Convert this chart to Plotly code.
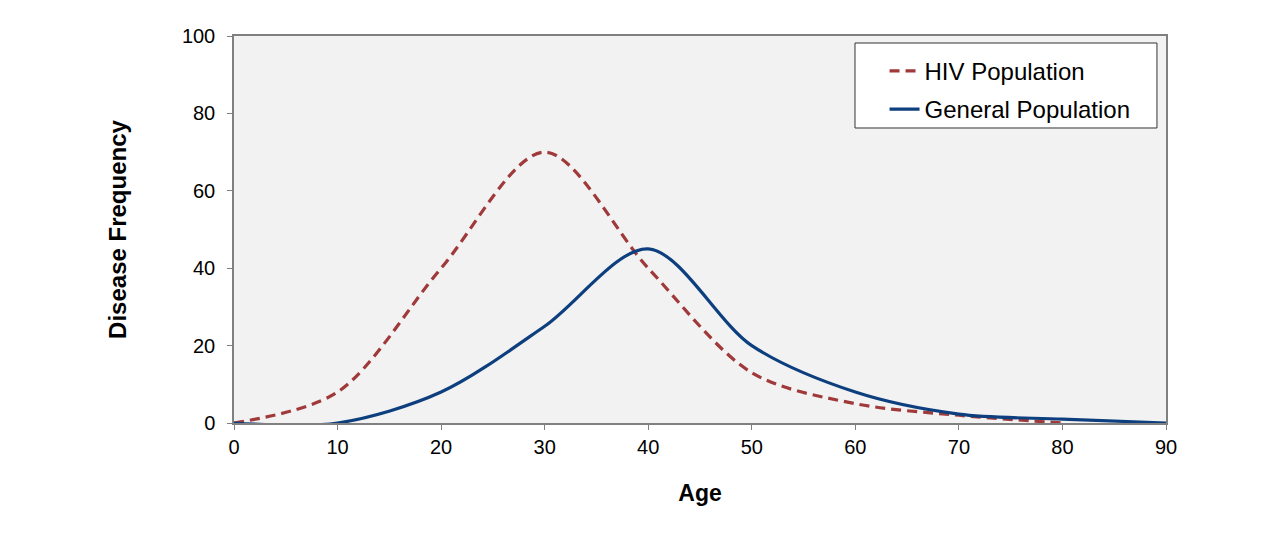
import plotly.graph_objects as go

ages_hiv = [0, 10, 20, 30, 40, 50, 60, 70, 80]
hiv_freq = [0, 8, 40, 70, 40, 13, 5, 2, 0]
ages_gen = [0, 10, 20, 30, 40, 50, 60, 70, 80, 90]
gen_freq = [0, 0, 8, 25, 45, 20, 8, 2.3, 1, 0]

x_ticks = [0, 10, 20, 30, 40, 50, 60, 70, 80, 90]
y_ticks = [0, 20, 40, 60, 80, 100]

FONT = "Liberation Sans, Arial, sans-serif"

fig = go.Figure()
fig.add_trace(go.Scatter(
    x=ages_hiv, y=hiv_freq, mode="lines", name="HIV Population", legendgroup="a",
    line=dict(color="#A0393A", width=3.2, dash="10px,6px", shape="spline", smoothing=0.9),
))
fig.add_trace(go.Scatter(
    x=ages_gen, y=gen_freq, mode="lines", name="General Population", legendgroup="b",
    line=dict(color="#0D3F7F", width=3.2, shape="spline", smoothing=0.9),
))

# legend frame
fig.add_shape(type="rect", xref="paper", yref="paper",
              x0=0.6663, x1=0.9903, y0=0.7623, y1=0.9819,
              line=dict(color="#333333", width=1), fillcolor="white", layer="below")

fig.update_layout(
    width=1280, height=537,
    margin=dict(l=234, r=114, t=36, b=114),
    paper_bgcolor="white",
    plot_bgcolor="#F2F2F2",
    font=dict(family=FONT, size=20, color="black"),
    showlegend=True,
    legend=dict(
        x=0.698, y=0.967, xanchor="left", yanchor="top",
        bgcolor="rgba(0,0,0,0)", borderwidth=0,
        font=dict(family=FONT, size=24, color="black"),
        tracegroupgap=4,
    ),
    xaxis=dict(
        range=[0, 90], tickvals=x_ticks, ticktext=[str(v) for v in x_ticks],
        showgrid=False, zeroline=False,
        showline=True, linecolor="#808080", linewidth=1.5, mirror=True,
        ticks="outside", ticklen=5, tickcolor="#808080",
        tickfont=dict(family=FONT, size=20),
        title=dict(text="<b>Age</b>", font=dict(family=FONT, size=23), standoff=28),
    ),
    yaxis=dict(
        range=[0, 100], tickvals=y_ticks, ticktext=[str(v) for v in y_ticks],
        showgrid=False, zeroline=False,
        showline=True, linecolor="#808080", linewidth=1.5, mirror=True,
        ticks="outside", ticklen=5, tickcolor="#808080",
        ticklabelstandoff=8,
        tickfont=dict(family=FONT, size=20),
        title=dict(text="<b>Disease Frequency</b>", font=dict(family=FONT, size=24), standoff=48),
    ),
)

fig.write_html("out.html")
